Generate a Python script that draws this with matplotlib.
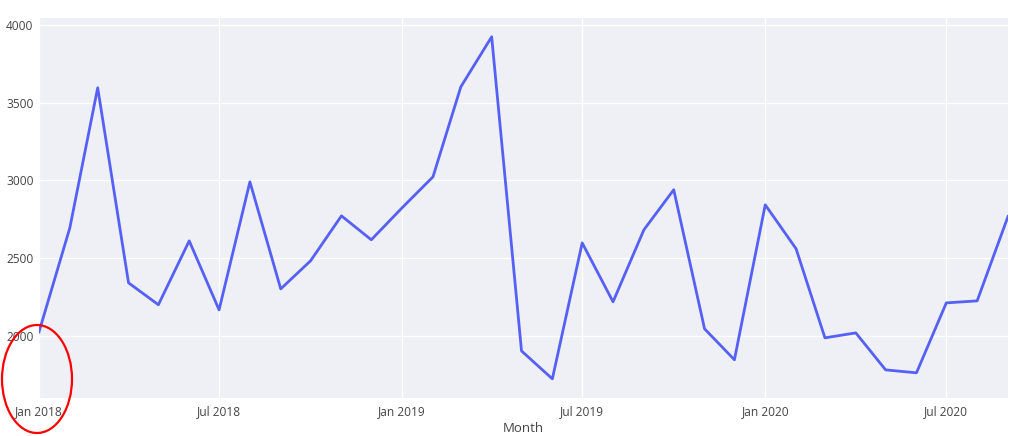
import numpy as np
import pandas as pd
import matplotlib
matplotlib.use("Agg")
import matplotlib.pyplot as plt
from matplotlib.patches import Ellipse

plt.rcParams['font.family'] = ['Open Sans', 'DejaVu Sans']

months = pd.date_range("2018-01-01", "2020-09-01", freq="MS")
values = [2025, 2695, 3596, 2341, 2200, 2611, 2167, 2991, 2302, 2483, 2772, 2618,
          2824, 3023, 3602, 3924, 1903, 1723, 2598, 2219, 2682, 2940, 2045, 1846,
          2843, 2560, 1987, 2019, 1781, 1762, 2212, 2225, 2768]
yticks = [2000, 2500, 3000, 3500, 4000]
xticks = pd.to_datetime(["2018-01-01", "2018-07-01", "2019-01-01", "2019-07-01",
                         "2020-01-01", "2020-07-01"])
xlabels = ["Jan 2018", "Jul 2018", "Jan 2019", "Jul 2019", "Jan 2020", "Jul 2020"]

text_color = "#444444"
fig = plt.figure(figsize=(10.24, 4.36), dpi=100)
ax = fig.add_axes([39 / 1024, 1 - 398 / 436, 969 / 1024, 380 / 436])
ax.set_facecolor("#eff0f5")
ax.plot(months, values, color="#5560f5", linewidth=2)

ax.set_xlim(months[0], months[-1])
ax.set_ylim(1600, 4045)
ax.set_yticks(yticks)
ax.set_xticks(xticks)
ax.set_xticklabels(xlabels)
ax.grid(True, color="white", linewidth=1)
ax.set_axisbelow(True)
for s in ax.spines.values():
    s.set_visible(False)
ax.tick_params(length=0, labelsize=8.6, colors=text_color, pad=5)
ax.tick_params(axis="y", pad=4)

# axis title at the bottom edge
fig.text(523 / 1024, 0.002, "Month", ha="center", va="bottom", fontsize=9.5, color=text_color)

# hand-drawn red circle annotation
fig.patches.append(Ellipse((37 / 1024, 1 - 379 / 436), 70 / 1024, 108 / 436,
                           transform=fig.transFigure, fill=False,
                           edgecolor="red", linewidth=1.6))

fig.savefig("out.png", dpi=100)
